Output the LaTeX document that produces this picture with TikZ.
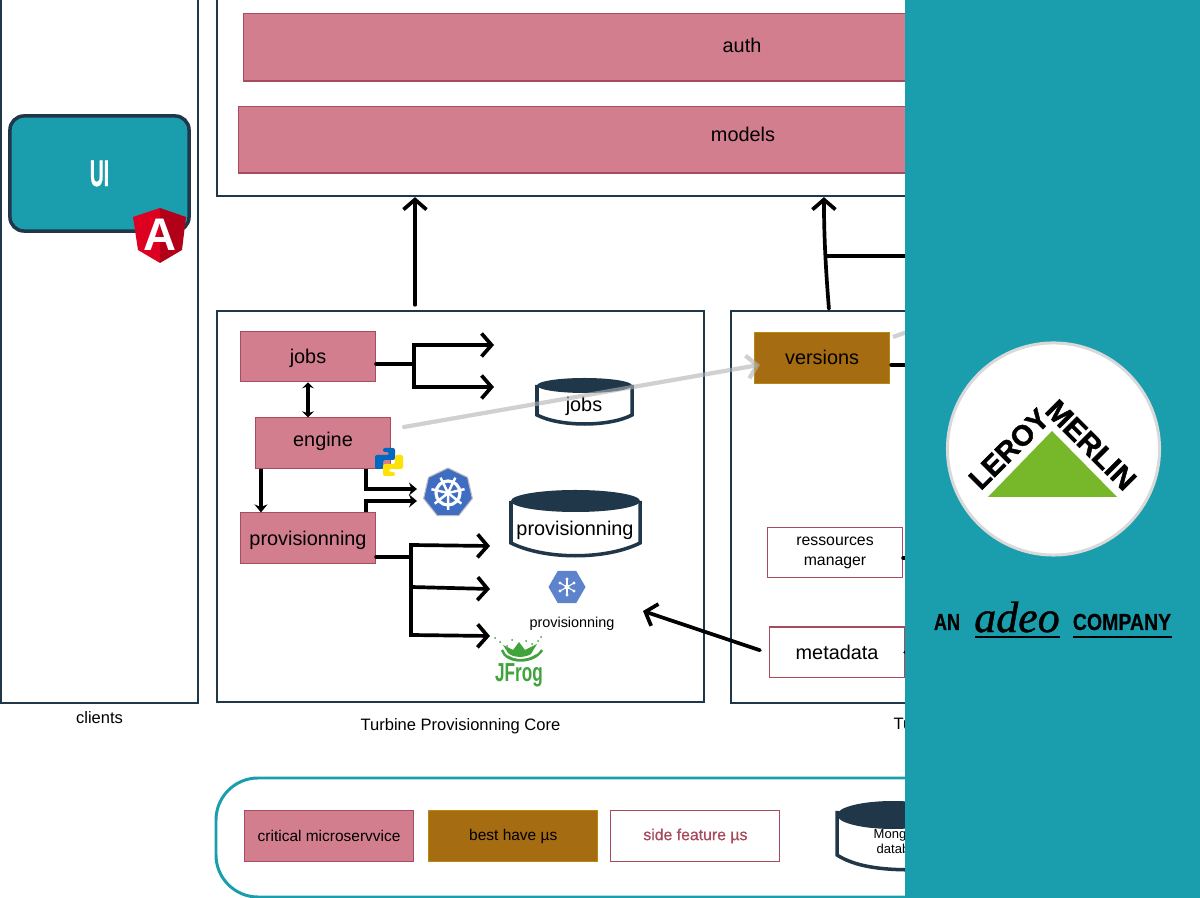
\documentclass[tikz,border=0pt]{standalone}
\usepackage{fontspec}
\setmainfont{Liberation Sans}
\usetikzlibrary{positioning, arrows.meta, shapes.geometric}

\definecolor{navy}{HTML}{1F3749}
\definecolor{teal}{HTML}{1A9EAE}
\definecolor{rose}{HTML}{D27E8E}
\definecolor{roseline}{HTML}{A84B5C}
\definecolor{ochre}{HTML}{A66C12}
\definecolor{ngblue}{HTML}{3F6DC2}
\definecolor{leafgreen}{HTML}{76B82A}
\definecolor{frog}{HTML}{40A33B}

\newcommand{\sizepx}[1]{\fontsize{#1}{#1}\selectfont}
\newcommand{\heavy}[1]{\addfontfeature{FakeBold=#1}}

\begin{document}
\begin{tikzpicture}[
  x=0.01cm, y=-0.01cm,
  frame/.style={draw=navy, line width=0.6pt, fill=white, inner sep=0},
  critical/.style={draw=roseline, line width=0.3pt, fill=rose, inner sep=0,
    minimum width=1.35cm, minimum height=0.505cm, font=\sizepx{5.65}},
  bestofit/.style={critical, draw=ochre!80!yellow, fill=ochre},
  side/.style={critical, fill=white},
  legend/.style={minimum width=1.69cm, minimum height=0.51cm, font=\sizepx{4.4}},
  label/.style={inner sep=0, font=\sizepx{4.7}},
  arrow/.style={-{Straight Barb[length=1mm,width=2.3mm]}, line width=1.05pt, line cap=round},
  link/.style={line width=1.05pt, line cap=round},
  tiny/.style={-{Stealth[length=0.8mm,width=1.3mm]}, line width=1.05pt},
  faded/.style={draw=black!30, opacity=0.6, line width=1.2pt},
  disk/.style={draw=navy, line width=1pt, fill=white},
  disktop/.style={fill=navy}
]
\useasboundingbox (0,0) rectangle (1200,898);
\clip (0,0) rectangle (1200,898);

\node[frame, minimum width=1.97cm, minimum height=7.13cm] (clients) at (99.5,346.5) {};
\node[frame, minimum width=9.83cm, minimum height=2.06cm] (shared) at (708.5,93) {};
\node[frame, minimum width=4.87cm, minimum height=3.91cm] (core) at (460.5,506.5) {};
\node[frame, minimum width=4.69cm, minimum height=3.92cm] (turbine) at (965.5,507) {};

\node[label] (clientslabel) at (99.5,718) {clients};
\node[label] (corelabel) at (460.5,726) {Turbine Provisionning Core};
\node[label, anchor=west] (turbinelabel) at (893,724) {Tu};

\node[critical, minimum width=7.6cm, minimum height=0.67cm] (authbox) at (624,47.5) {};
\node[critical, minimum width=7.6cm, minimum height=0.66cm] (modelsbox) at (619,140) {};
\node[inner sep=0, font=\sizepx{5.65}] (auth) at (742,45) {auth};
\node[inner sep=0, font=\sizepx{5.65}] (models) at (743,134) {models};

\node[draw=navy, line width=1pt, fill=teal, rounded corners=0.14cm, inner sep=0,
  minimum width=1.79cm, minimum height=1.15cm] (ui) at (99.5,173.5)
  {\textcolor{white}{\sizepx{10.5}\bfseries\heavy{1}\scalebox{0.52}[1]{UI}}};

\fill[red!87!blue] (160,208) -- (133,217) -- (138,250) -- (160,263) -- cycle;
\fill[red!78!black!90!blue] (160,208) -- (186,217) -- (182,250) -- (160,263) -- cycle;
\node[inner sep=0, text=white, font=\sizepx{13}\bfseries] (angular) at (160,235) {A};

\node[critical, text height=0.18cm, text depth=0.04cm] (jobs) at (308,356.5) {jobs};
\node[critical, text height=0.11cm, text depth=0.04cm, below=0.35cm of jobs, xshift=0.15cm] (engine) {engine};
\node[critical, text height=0.18cm, text depth=0.04cm, below=0.435cm of engine, xshift=-0.15cm] (provisionning) {provisionning};

\draw[disk] (537,385) -- (537,415) .. controls (560,427) and (609,427) .. (632,415) -- (632,385);
\fill[disktop] (584.5,385.5) ellipse (47.5 and 7.5);
\node[inner sep=0, font=\sizepx{5.65}] (jobsdb) at (584,406) {jobs};
\draw[disk] (511,501) -- (511,543) .. controls (545,560) and (606,560) .. (640,543) -- (640,501);
\fill[disktop] (575.5,501) ellipse (64.5 and 11);
\node[inner sep=0, font=\sizepx{5.65}] (provisionningdb) at (575,530) {provisionning};

\node[regular polygon, regular polygon sides=7, fill=ngblue, draw=black!25, line width=0.3pt,
  inner sep=0, minimum size=0.5cm] (kube) at (448,493) {};
\draw[white, line width=0.9pt] (kube.center) circle (12);
\foreach \a in {0,51.4,...,360} {
  \draw[white, line width=0.7pt] (kube.center) -- ++(\a+90:17);
}
\fill[white] (kube.center) circle (3);

\node[regular polygon, regular polygon sides=6, fill=ngblue!85!white,
  inner sep=0, minimum size=0.37cm] (gke) at (567,587) {};
\foreach \a in {30,90,...,330} {
  \draw[white, line width=0.3pt] (gke.center) -- ++(\a:8);
  \fill[white] (gke.center) ++(\a:8) circle (1.6);
}
\fill[white] (gke.center) circle (2.5);
\node[inner sep=0, font=\sizepx{4.1}] (gkelabel) at (572,624) {provisionning};

% python logo
\fill[blue!45!cyan!75!black, rounded corners=0.02cm] (383,448) -- (395,448) -- (395,460) -- (383,460)
  -- (383,469) -- (375,469) -- (375,455) -- (389,455) -- (389,452) -- (383,452) -- cycle;
\fill[yellow!85!orange, rounded corners=0.02cm] (395,476) -- (383,476) -- (383,464) -- (395,464)
  -- (395,455) -- (403,455) -- (403,469) -- (389,469) -- (389,472) -- (395,472) -- cycle;

% jfrog logo
\fill[frog] (503,645) -- (513,650) -- (519,642) -- (525,650) -- (537,644) -- (531,654)
  .. controls (525,658) and (513,658) .. (508,653) -- cycle;
\draw[frog, line width=0.7pt] (502,650) .. controls (506,664) and (534,664) .. (542,650);
\draw[frog, line width=0.4pt] (508,656) .. controls (514,661) and (528,661) .. (536,655);
\foreach \dx/\dy in {495/638, 500/642, 507/646, 512/640, 526/641, 532/644, 538/641, 541/637} {
  \fill[frog] (\dx,\dy) circle (1);
}
\node[inner sep=0, text=frog, font=\sizepx{7.4}\bfseries] (jfrog) at (519,675) {\scalebox{0.66}[1]{JFrog}};

\node[bestofit, anchor=north west] (versions) at (754,332) {versions};
\node[side] (ressources) at (835,552.5) {};
\node[inner sep=0, font=\sizepx{4.5}, align=center] (ressourceslabel) at (835,553) {ressources\\[1pt]manager};
\node[side, anchor=north west] (metadata) at (769,626.5) {metadata};

\coordinate (jobsfork) at (414,364);
\coordinate (jobsup) at (494,345);
\coordinate (jobsdown) at (494,387);
\draw[link] (jobs.east |- jobsfork) -- (jobsfork);
\draw[arrow] (jobsfork) -- (414,345) -- (jobsup);
\draw[arrow] (jobsfork) -- (414,387) -- (jobsdown);

\draw[{Stealth[length=0.6mm,width=1.2mm]}-{Stealth[length=0.6mm,width=1.2mm]}, line width=1.05pt] (jobs.south) -- (engine.north -| jobs.south);
\draw[tiny] ([xshift=-0.62cm]engine.south) -- ([xshift=-0.47cm]provisionning.north);

\coordinate (kubeupper) at (417,489);
\coordinate (kubelower) at (417,501);
\draw[tiny] ([xshift=0.43cm]engine.south) -- ([xshift=0.43cm]engine.south |- kubeupper) -- (kubeupper);
\draw[tiny] ([xshift=0.58cm]provisionning.north) -- ([xshift=0.58cm]provisionning.north |- kubelower) -- (kubelower);

\coordinate (provfork) at (411,557);
\coordinate (provdb) at (490,546);
\coordinate (provgke) at (490,589);
\coordinate (provfrog) at (490,636);
\draw[link] (provisionning.east |- provfork) -- (provfork);
\draw[arrow] (provfork) -- (411,545) -- (provdb);
\draw[arrow] (provfork) -- (411,587) -- (provgke);
\draw[arrow] (provfork) -- (411,635) -- (provfrog);

\draw[arrow] ([xshift=-0.455cm]core.north) ++(0,-5) -- ([xshift=-0.455cm]core.north |- shared.south);
\draw[arrow] ([xshift=-1.365cm]turbine.north) ++(0,-1) .. controls (825,260) and (824,230) .. ([xshift=-1.415cm]turbine.north |- shared.south);
\coordinate (sharedbranch) at (826,256);
\coordinate (sharedright) at (910,256);
\draw[link] (sharedbranch) -- (sharedright);

\coordinate (metadatatip) at (643,611);
\draw[arrow] ([xshift=-0.09cm,yshift=0.02cm]metadata.west) -- (metadatatip);

\coordinate (enginegray) at (404,427);
\draw[faded, -{Straight Barb[length=1mm,width=2.3mm]}, line cap=round] (enginegray) -- ([xshift=0.06cm,yshift=-0.07cm]versions.west);
\coordinate (grayright) at (910,331);
\draw[faded] (893,337) -- (grayright);
\coordinate (versionsright) at (910,365);
\draw[link] (versions.east |- versionsright) ++(1,0) -- (versionsright);
\coordinate (ressourcesright) at (910,558);
\draw[link] (ressources.east |- ressourcesright) -- (ressourcesright);
\coordinate (metadataright) at (910,652);
\draw[link] (metadata.east) -- (metadataright);

\draw[teal, line width=0.85pt, rounded corners=0.42cm] (216,897) rectangle (1100,778);
\node[critical, legend, anchor=north west] (legcritical) at (244,810) {critical microservvice};
\node[bestofit, legend, right=0.14cm of legcritical] (legbest) {best have µs};
\node[side, legend, text=roseline, font=\sizepx{4.5}\heavy{0.6}, right=0.12cm of legbest] (legside) {side feature µs};
\draw[disk] (837,811) -- (837,855) .. controls (860,870) and (900,872) .. (950,868) -- (950,811);
\fill[disktop] (893,815) ellipse (56 and 14);
\node[inner sep=0, anchor=west, font=\sizepx{3.7}] (legmongo) at (873,835) {Mong};
\node[inner sep=0, anchor=west, font=\sizepx{3.7}] (legdatabase) at (876,849) {datab};

\node[fill=teal, minimum width=2.95cm, minimum height=8.98cm, inner sep=0] (panel) at (1052.5,449) {};
\node[circle, fill=white, draw=black!15!white, line width=0.85pt, minimum size=2.12cm, inner sep=0] (badge) at (1053.5,449) {};
\fill[leafgreen] (988,497) -- (1052,431) -- (1117,497) -- cycle;
\node[rotate=45, inner sep=0, font=\sizepx{8.2}\bfseries\heavy{1.5}] (leroy) at (1009,449) {LEROY};
\node[rotate=-45, inner sep=0, font=\sizepx{8.4}\bfseries\heavy{1.5}] (merlin) at (1091,445) {MERLIN};

\node[inner sep=0, font=\sizepx{6.6}\bfseries\heavy{0.5}] (an) at (947,622) {\scalebox{0.78}[1]{AN}};
\node[inner sep=0] (adeo) at (1017,617) {\fontspec{Liberation Serif}[FakeBold=1]\sizepx{12.5}\itshape adeo};
\node[inner sep=0, font=\sizepx{6.6}\bfseries\heavy{0.5}] (company) at (1122,622) {\scalebox{0.84}[1]{COMPANY}};
\draw[line width=0.85pt] (975,637) -- (1060,637);
\draw[line width=0.3pt] (1073,637) -- (1172,637);
\end{tikzpicture}
\end{document}
